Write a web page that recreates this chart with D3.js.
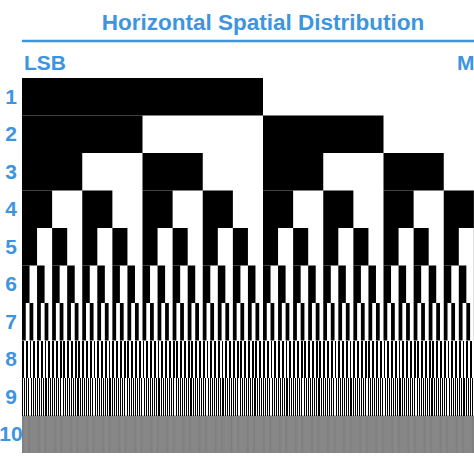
<!DOCTYPE html><html><head><script src="https://cdn.jsdelivr.net/npm/d3@7"></script>
<style>body{margin:0;background:#fff}</style></head><body><svg id="c" width="474" height="474"></svg><script>
const rows=[1,2,3,4,5,6,7,8,9,10];
const title="Horizontal Spatial Distribution";
const leftLabel="LSB", rightLabel="MSB";
const blue="#3d95e0";
const svg=d3.select("#c");
const x=d3.scaleLinear().domain([0,1]).range([22,504]);
const y=d3.scaleBand().domain(rows).range([78,453]);
svg.append("text").attr("x",263).attr("y",30).attr("text-anchor","middle").attr("fill",blue)
 .attr("font-family","Liberation Sans, Arial").attr("font-weight","bold").attr("font-size",22.5).text(title);
svg.append("line").attr("x1",22).attr("x2",474).attr("y1",41).attr("y2",41).attr("stroke",blue).attr("stroke-width",2.5);
svg.append("text").attr("x",24).attr("y",70).attr("fill",blue).attr("font-family","Liberation Sans, Arial").attr("font-weight","bold").attr("font-size",21).text(leftLabel);
svg.append("text").attr("x",457).attr("y",70).attr("fill",blue).attr("font-family","Liberation Sans, Arial").attr("font-weight","bold").attr("font-size",21).text(rightLabel);
rows.forEach(k=>{
  const n=Math.pow(2,k);
  const g=svg.append("g").attr("shape-rendering",(k===8||k===9)?"crispEdges":"auto");
  g.selectAll("rect").data(d3.range(0,n,2)).join("rect")
   .attr("x",i=>x(i/n)).attr("width",i=>x((i+1)/n)-x(i/n))
   .attr("y",y(k)).attr("height",y.bandwidth()).attr("fill","#000");
  svg.append("text").attr("x",11).attr("y",y(k)+y.bandwidth()/2+7).attr("text-anchor","middle")
   .attr("fill",blue).attr("font-family","Liberation Sans, Arial").attr("font-weight","bold").attr("font-size",21).text(k);
});
</script></body></html>
